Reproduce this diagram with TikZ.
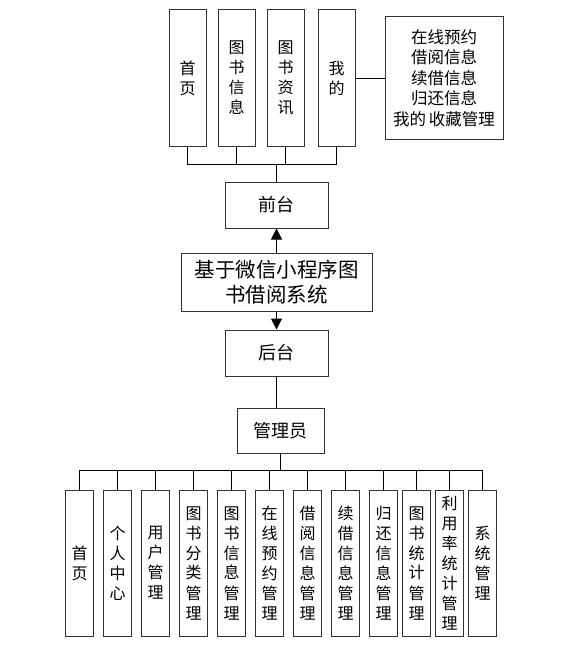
\documentclass[tikz,border=0pt]{standalone}
\usepackage{fontspec}
\newfontfamily\cjk{Noto Sans CJK SC}
\usetikzlibrary{arrows.meta}

\begin{document}
\begin{tikzpicture}[x=1pt, y=1pt, node distance=77pt, line width=1pt,
                    main node/.style={rectangle,draw=black!80,fill=white,inner sep=0pt,align=center,font=\cjk\fontsize{18}{22}\selectfont},
                    col node/.style={main node,minimum width=37pt,minimum height=137pt,font=\cjk\fontsize{16}{20}\selectfont},
                    low node/.style={main node,minimum width=27.5pt,minimum height=146pt,font=\cjk\fontsize{16}{20}\selectfont}]

  \useasboundingbox (0,0) rectangle (580,-649);

  \node[main node, minimum width=191pt, minimum height=58pt, font=\cjk\fontsize{20.5}{25}\selectfont] (1) at (276.5,-282) {基于微信小程序图\\书借阅系统};
  \node[main node, minimum width=103pt, minimum height=46pt] (2) [above of=1] {前台};
  \node[main node, minimum width=103pt, minimum height=46pt] (3) [node distance=71pt, below of=1] {后台};
  \node[main node, minimum width=87pt, minimum height=45pt] (4) [node distance=77.5pt, below of=3, xshift=4pt] {管理员};

  % front end pages
  \node[col node] (5) [node distance=127pt, above of=2, xshift=-89pt] {首\\页};
  \node[col node] (6) [node distance=49pt, right of=5] {图\\书\\信\\息};
  \node[col node] (7) [node distance=49pt, right of=6] {图\\书\\资\\讯};
  \node[col node] (8) [node distance=51pt, right of=7] {我\\的};
  \node[main node, minimum width=118pt, minimum height=123pt, font=\cjk\fontsize{16.5}{20.5}\selectfont] (9) [node distance=107.5pt, right of=8] {在线预约\\借阅信息\\续借信息\\归还信息\\我的\hspace{3pt}收藏管理};

  % admin modules
  \node[low node] (10) [node distance=132.5pt, below of=4, xshift=-201pt] {首\\页};
  \node[low node] (11) [node distance=38pt, right of=10] {个\\人\\中\\心};
  \node[low node] (12) [node distance=38pt, right of=11] {用\\户\\管\\理};
  \node[low node] (13) [node distance=38pt, right of=12] {图\\书\\分\\类\\管\\理};
  \node[low node] (14) [node distance=38pt, right of=13] {图\\书\\信\\息\\管\\理};
  \node[low node] (15) [node distance=38pt, right of=14] {在\\线\\预\\约\\管\\理};
  \node[low node] (16) [node distance=38pt, right of=15] {借\\阅\\信\\息\\管\\理};
  \node[low node] (17) [node distance=38pt, right of=16] {续\\借\\信\\息\\管\\理};
  \node[low node] (18) [node distance=38pt, right of=17] {归\\还\\信\\息\\管\\理};
  \node[low node] (19) [node distance=33pt, right of=18] {图\\书\\统\\计\\管\\理};
  \node[low node] (20) [node distance=33pt, right of=19] {利\\用\\率\\统\\计\\管\\理};
  \node[low node] (21) [node distance=33pt, right of=20] {系\\统\\管\\理};

  \node[coordinate] (b1) [node distance=41pt, above of=2] {};
  \node[coordinate] (b2) [node distance=39.5pt, below of=4] {};

  \draw (b1) -- (2);
  \draw (5) |- (b1) (6) |- (b1) (7) |- (b1) (8) |- (b1);
  \draw (8) -- (9);
  \draw[-{Triangle[width=11pt,length=11pt]}, black] (1) -- (2);
  \draw[-{Triangle[width=11pt,length=11pt]}, black] (1) -- (3);
  \draw (3) -- (3 |- 4.north);
  \draw (4) -- (b2);
  \draw (10) |- (b2) (11) |- (b2) (12) |- (b2) (13) |- (b2) (14) |- (b2) (15) |- (b2)
        (16) |- (b2) (17) |- (b2) (18) |- (b2) (19) |- (b2) (20) |- (b2) (21) |- (b2);

\end{tikzpicture}
\end{document}
